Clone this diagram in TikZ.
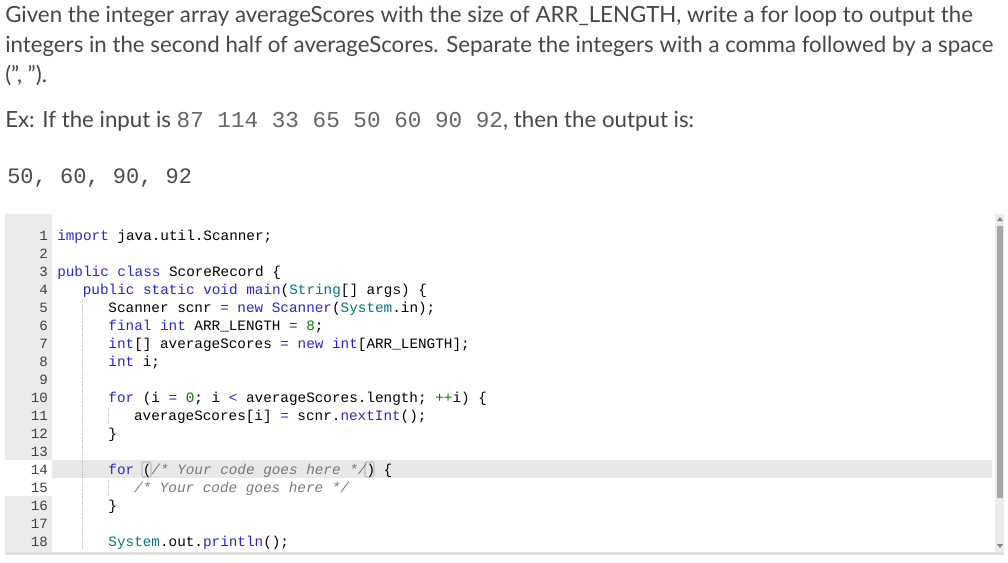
\documentclass[tikz,border=0pt]{standalone}
\usepackage{fontspec}
\setmainfont{Lato}
\setmonofont{Liberation Mono}
\definecolor{txt}{RGB}{70,70,70}
\definecolor{kw}{RGB}{40,40,200}
\definecolor{ty}{RGB}{0,120,120}
\definecolor{nm}{RGB}{0,130,0}
\definecolor{cm}{RGB}{120,120,120}
\definecolor{gut}{RGB}{235,235,235}
\definecolor{hl}{RGB}{232,232,232}
\newcommand\kw[1]{\textcolor{kw}{#1}}
\newcommand\ty[1]{\textcolor{ty}{#1}}
\newcommand\nm[1]{\textcolor{nm}{#1}}
\newcommand\cmt[1]{\textcolor{cm}{\itshape #1}}
\begin{document}
\begin{tikzpicture}[x=0.75pt,y=-0.75pt,
  para/.style={anchor=base west,inner sep=0,text=txt,font=\fontsize{16.7}{19}\selectfont},
  code/.style={anchor=base west,inner sep=0,font=\fontsize{10.75}{12}\ttfamily},
  lnum/.style={anchor=base east,inner sep=0,font=\fontsize{10.6}{12}\ttfamily,text=black!75}]
\useasboundingbox (0,0) rectangle (1008,562);
\fill[white] (0,0) rectangle (1008,562);
\node[para] (p1) at (5,22) {Given the integer array averageScores with the size of ARR\_LENGTH, write a for loop to output the};
\node[para] (p2) at (5,52) {integers in the second half of averageScores. Separate the integers with a comma followed by a space};
\node[para] (p3) at (5,82) {(", ").};
\node[para] (p4) at (5,127) {Ex: If the input is {\ttfamily\color{black!60}\fontsize{17}{19}\selectfont 87 114 33 65 50 60 90 92}, then the output is:};
\node[anchor=base west,inner sep=0,text=black!70,font=\fontsize{16.5}{18}\ttfamily] (out) at (7,183) {50, 60, 90, 92};
% editor
\fill[black!12] (5,216) rectangle (1004,555);
\fill[white] (5,214) rectangle (1004,552);
\fill[gut] (5,214) rectangle (52,552);
\fill[white] (5,460) rectangle (52,496);
\fill[hl] (52,460) rectangle (992,478);
\fill[black!8] (995,214) rectangle (1004,552);
\fill[black!35] (997,226) rectangle (1003,498);
\fill[black!50] (997,221)--(1003,221)--(1000,217)--cycle;
\fill[black!50] (997,544)--(1003,544)--(1000,548)--cycle;
\draw[black!25,densely dotted] (82,300) -- (82,550);
\draw[black!25,densely dotted] (108,408) -- (108,424);
\draw[black!25,densely dotted] (108,480) -- (108,496);
\draw[black!40,rounded corners=1pt] (142,462) rectangle (151,477);
\draw[black!40,rounded corners=1pt] (365,462) rectangle (374,477);
\foreach \i in {1,...,18}{
  \node[lnum] (n\i) at (48,{236+(\i-1)*18+4}) {\i};
}
\node[code] (c1) at (57,240) {\kw{import} java.util.Scanner;};
\node[code] (c3) at (57,276) {\kw{public} \kw{class} ScoreRecord \{};
\node[code] (c4) at (82.6,294) {\kw{public} \kw{static} \kw{void} \kw{main}(\ty{String}[] args) \{};
\node[code] (c5) at (108.2,312) {Scanner scnr \kw{=} \kw{new} \kw{Scanner}(\ty{System}.in);};
\node[code] (c6) at (108.2,330) {\kw{final} \kw{int} ARR\_LENGTH \kw{=} \nm{8};};
\node[code] (c7) at (108.2,348) {\kw{int}[] averageScores \kw{=} \kw{new} \kw{int}[ARR\_LENGTH];};
\node[code] (c8) at (108.2,366) {\kw{int} i;};
\node[code] (c10) at (108.2,402) {\kw{for} (i \kw{=} \nm{0}; i \kw{<} averageScores.length; \nm{++}i) \{};
\node[code] (c11) at (133.8,420) {averageScores[i] \kw{=} scnr.\kw{nextInt}();};
\node[code] (c12) at (108.2,438) {\}};
\node[code] (c14) at (108.2,474) {\kw{for} (\cmt{/* Your code goes here */}) \{};
\node[code] (c15) at (133.8,492) {\cmt{/* Your code goes here */}};
\node[code] (c16) at (108.2,510) {\}};
\node[code] (c18) at (108.2,546) {\ty{System}.out.\kw{println}();};
\end{tikzpicture}
\end{document}
